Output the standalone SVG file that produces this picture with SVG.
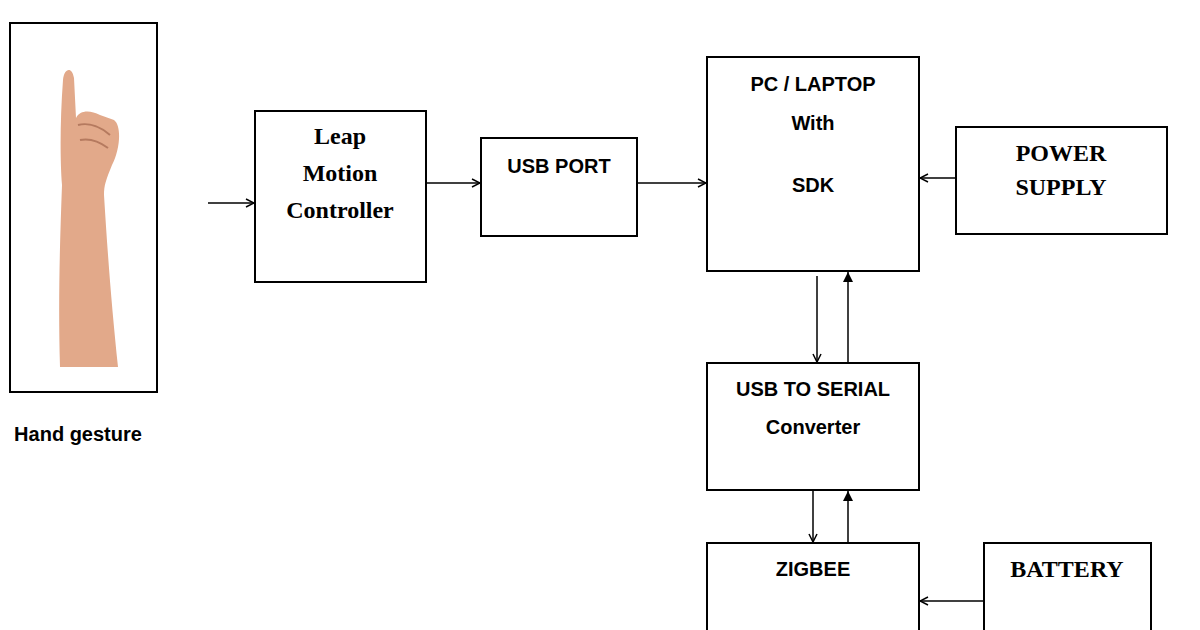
<svg xmlns="http://www.w3.org/2000/svg" width="1200" height="630" viewBox="0 0 1200 630">
<defs>
<style>
.b{fill:#fff;stroke:#000;stroke-width:2}
.s{font-family:"Liberation Sans",Arial,sans-serif;font-weight:bold;font-size:20px;text-anchor:middle}
.r{font-family:"Liberation Serif","Times New Roman",serif;font-weight:bold;font-size:24px;text-anchor:middle}
.c line{stroke:#000;stroke-width:1.5}
</style>
<marker id="a" markerWidth="10" markerHeight="10" refX="9" refY="5" orient="auto" markerUnits="userSpaceOnUse"><path d="M1,1 L9,5 L1,9" fill="none" stroke="#000" stroke-width="1.5"/></marker>
<marker id="t" markerWidth="12" markerHeight="12" refX="10" refY="6" orient="auto" markerUnits="userSpaceOnUse"><path d="M0,1 L10,6 L0,11 Z" fill="#000"/></marker>
</defs>
<rect width="1200" height="630" fill="#fff"/>
<g id="hand">
<rect class="b" x="10" y="23" width="147" height="369"/>
<path d="M62,185 C60,160 60,120 63,80 C64,68 72,66 74,78 L76,118 C80,110 90,110 100,115 L114,120 C122,126 120,150 112,165 C106,180 104,185 104,195 C108,260 112,310 118,367 L60,367 C58,300 60,240 62,185 Z" fill="#e2a98a"/>
<path d="M78,125 C90,122 102,128 110,135 M80,140 C90,138 100,142 108,148" stroke="#b57a5f" stroke-width="2" fill="none"/>
<text class="s" x="78" y="441">Hand gesture</text>
</g>
<g id="leap"><rect class="b" x="255" y="111" width="171" height="171"/>
<text class="r" x="340" y="144">Leap</text><text class="r" x="340" y="181">Motion</text><text class="r" x="340" y="218">Controller</text></g>
<g id="usb"><rect class="b" x="481" y="138" width="156" height="98"/><text class="s" x="559" y="173">USB PORT</text></g>
<g id="pc"><rect class="b" x="707" y="57" width="212" height="214"/>
<text class="s" x="813" y="91">PC / LAPTOP</text><text class="s" x="813" y="130">With</text><text class="s" x="813" y="192">SDK</text></g>
<g id="power"><rect class="b" x="956" y="127" width="211" height="107"/>
<text class="r" x="1061" y="161">POWER</text><text class="r" x="1061" y="195">SUPPLY</text></g>
<g id="conv"><rect class="b" x="707" y="363" width="212" height="127"/>
<text class="s" x="813" y="396">USB TO SERIAL</text><text class="s" x="813" y="434">Converter</text></g>
<g id="zigbee"><rect class="b" x="707" y="543" width="212" height="100"/><text class="s" x="813" y="576">ZIGBEE</text></g>
<g id="battery"><rect class="b" x="984" y="543" width="167" height="100"/><text class="r" x="1067" y="577">BATTERY</text></g>
<g class="c">
<line x1="208" y1="203" x2="254" y2="203" marker-end="url(#a)"/>
<line x1="426" y1="183" x2="480" y2="183" marker-end="url(#a)"/>
<line x1="637" y1="183" x2="706" y2="183" marker-end="url(#a)"/>
<line x1="956" y1="178" x2="920" y2="178" marker-end="url(#a)"/>
<line x1="817" y1="276" x2="817" y2="362" marker-end="url(#a)"/>
<line x1="848" y1="362" x2="848" y2="272" marker-end="url(#t)"/>
<line x1="813" y1="490" x2="813" y2="542" marker-end="url(#a)"/>
<line x1="848" y1="543" x2="848" y2="491" marker-end="url(#t)"/>
<line x1="984" y1="601" x2="920" y2="601" marker-end="url(#a)"/>
</g>
</svg>
